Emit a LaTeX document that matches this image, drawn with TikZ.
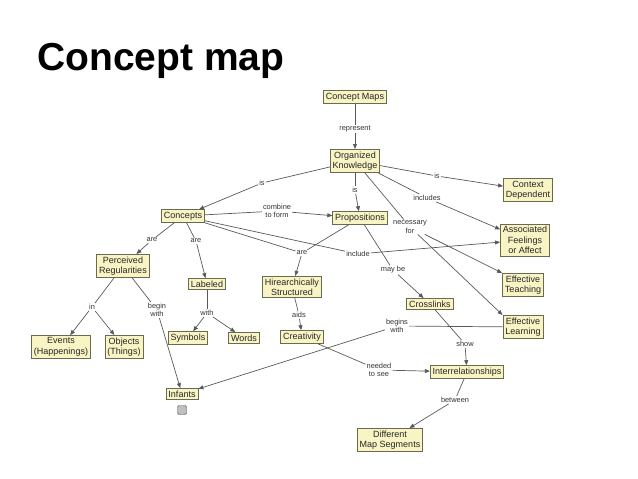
\documentclass[tikz,border=0pt]{standalone}
\usepackage{fontspec}
\setmainfont{Liberation Sans}
\usetikzlibrary{arrows.meta}
\definecolor{cfill}{HTML}{F8F4C4}
\definecolor{cline}{HTML}{6A6A50}
\begin{document}
\begin{tikzpicture}[x=1pt,y=-1pt,
  cbox/.style={draw=cline,fill=cfill,line width=0.8pt,font=\fontsize{9}{10.4}\selectfont,align=center,inner xsep=2.5pt,inner ysep=2.2pt,text=black!85},
  lab/.style={font=\fontsize{7.4}{8.4}\selectfont,align=center,fill=white,inner sep=1pt,text=black!80},
  con/.style={draw=black!65,line width=0.7pt},
  arr/.style={con,-{Triangle[length=5pt,width=4pt]}}]
\useasboundingbox (0,0) rectangle (638,479);
\node[font=\fontsize{39}{42}\selectfont\bfseries,anchor=west,inner sep=0pt] (title) at (37,61) {Concept map};
% concepts
\node[cbox] (cm) at (355,97) {Concept Maps};
\node[cbox] (ok) at (355,161) {Organized\\Knowledge};
\node[cbox] (cd) at (528,190) {Context\\Dependent};
\node[cbox] (co) at (183,216) {Concepts};
\node[cbox] (pr) at (360,218) {Propositions};
\node[cbox] (af) at (525,240) {Associated\\Feelings\\or Affect};
\node[cbox] (pe) at (123,266) {Perceived\\Regularities};
\node[cbox] (la) at (207,284) {Labeled};
\node[cbox] (hi) at (292,287) {Hirearchically\\Structured};
\node[cbox] (cr) at (430,304) {Crosslinks};
\node[cbox] (et) at (523,285) {Effective\\Teaching};
\node[cbox] (el) at (523,327) {Effective\\Learning};
\node[cbox] (ev) at (61,347) {Events\\(Happenings)};
\node[cbox] (ob) at (124,347) {Objects\\(Things)};
\node[cbox] (sy) at (188,338) {Symbols};
\node[cbox] (wo) at (244,338) {Words};
\node[cbox] (ct) at (302,337) {Creativity};
\node[cbox] (ir) at (467,372) {Interrelationships};
\node[cbox] (in) at (182,394) {Infants};
\node[draw=black!70,fill=black!25,rounded corners=1.5pt,minimum size=9pt,inner sep=0pt] (icon) at (182,410) {};
\node[cbox] (dm) at (390,440) {Different\\Map Segments};
% labels
\node[lab] (l1) at (355,129) {represent};
\node[lab] (l2) at (262,183) {is};
\node[lab] (l3) at (355,190) {is};
\node[lab] (l4) at (437,176) {is};
\node[lab] (l5) at (427,198) {includes};
\node[lab] (l6) at (277,211) {combine\\to form};
\node[lab] (l7) at (410,227) {necessary\\for};
\node[lab] (l8) at (152,240) {are};
\node[lab] (l9) at (196,241) {are};
\node[lab] (l10) at (302,253) {are};
\node[lab] (l11) at (358,254) {include};
\node[lab] (l12) at (393,270) {may be};
\node[lab] (l13) at (92,307) {in};
\node[lab] (l14) at (157,310) {begin\\with};
\node[lab] (l15) at (207,313) {with};
\node[lab] (l16) at (299,315) {aids};
\node[lab] (l17) at (397,326) {begins\\with};
\node[lab] (l18) at (465,344) {show};
\node[lab] (l19) at (379,370) {needed\\to see};
\node[lab] (l20) at (455,400) {between};
% connectors
\draw[con] (cm) -- (l1); \draw[arr] (l1) -- (ok);
\draw[con] (ok) -- (l2); \draw[arr] (l2) -- (co);
\draw[con] (ok) -- (l3); \draw[arr] (l3) -- (pr);
\draw[con] (ok) -- (l4); \draw[arr] (l4) -- (cd);
\draw[con] (ok) -- (l5); \draw[arr] (l5) -- (af);
\draw[con] (ok) -- (l7); \draw[arr] (l7) -- (et.north west); \draw[arr] (l7) -- (el.north west);
\draw[con] (co) -- (l6); \draw[arr] (l6) -- (pr);
\draw[con] (co) -- (l8); \draw[arr] (l8) -- (pe);
\draw[con] (co) -- (l9); \draw[arr] (l9) -- (la);
\draw[con] (co) -- (l10); \draw[con] (pr) -- (l10); \draw[arr] (l10) -- (hi);
\draw[con] (co) -- (l11); \draw[arr] (l11) -- (af);
\draw[con] (pr) -- (l12); \draw[arr] (l12) -- (cr);
\draw[con] (pe) -- (l13); \draw[arr] (l13) -- (ev); \draw[arr] (l13) -- (ob);
\draw[con] (pe) -- (l14); \draw[arr] (l14) -- (in);
\draw[con] (la) -- (l15); \draw[arr] (l15) -- (sy); \draw[arr] (l15) -- (wo);
\draw[con] (hi) -- (l16); \draw[arr] (l16) -- (ct);
\draw[con] (el) -- (l17); \draw[arr] (l17) -- (in);
\draw[con] (cr) -- (l18); \draw[arr] (l18) -- (ir);
\draw[con] (ct) -- (l19); \draw[arr] (l19) -- (ir);
\draw[con] (ir) -- (l20); \draw[arr] (l20) -- (dm);
\end{tikzpicture}
\end{document}
